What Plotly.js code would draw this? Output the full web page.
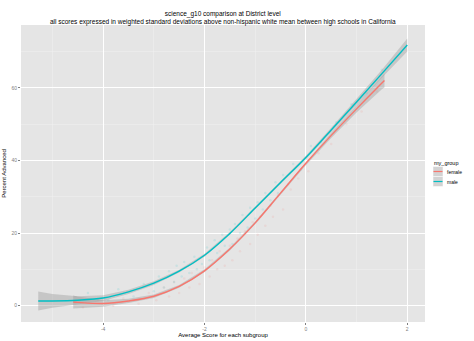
<!DOCTYPE html>
<html><head><meta charset="utf-8">
<script src="https://cdn.plot.ly/plotly-3.0.1.min.js"></script>
<style>html,body{margin:0;padding:0;background:#fff}</style>
</head><body><div id="chart" style="width:474px;height:341px"></div>
<script>
// smoothed curves (loess fit) with confidence band
const maleX = [-5.28, -5.0, -4.5, -4.0, -3.5, -3.0, -2.5, -2.0, -1.5, -1.0, -0.5, 0.0, 0.5, 1.0, 1.5, 2.0];
const maleY = [1.3, 1.3, 1.5, 2.1, 3.8, 6.2, 9.5, 13.9, 19.9, 26.9, 33.9, 40.8, 48.4, 56.1, 63.9, 71.8];
const maleLo = [-1.3, -0.6, 0.4, 1.3, 3.2, 5.7, 9.1, 13.5, 19.5, 26.5, 33.5, 40.3, 47.8, 55.3, 62.8, 70.0];
const maleHi = [3.9, 3.2, 2.6, 2.9, 4.4, 6.7, 9.9, 14.3, 20.3, 27.3, 34.3, 41.3, 49.0, 56.9, 65.0, 73.6];
const femaleX = [-4.59, -4.5, -4.0, -3.5, -3.0, -2.5, -2.0, -1.5, -1.0, -0.5, 0.0, 0.5, 1.0, 1.5, 1.55];
const femaleY = [1.0, 0.9, 0.6, 1.3, 2.6, 5.3, 9.6, 15.6, 22.8, 31.0, 39.2, 46.9, 54.2, 61.3, 62.0];
const femaleLo = [-0.8, -0.7, -0.3, 0.7, 2.1, 4.9, 9.2, 15.2, 22.4, 30.6, 38.7, 46.2, 53.2, 59.6, 60.1];
const femaleHi = [2.8, 2.5, 1.5, 1.9, 3.1, 5.7, 10.0, 16.0, 23.2, 31.4, 39.7, 47.6, 55.2, 63.0, 63.9];
// raw district points (faint)
const malePtX = [-4.3, -3.9, -3.7, -3.4, -3.2, -3.0, -2.9, -2.8, -2.7, -2.6, -2.55, -2.45, -2.4, -2.3, -2.2, -2.15, -2.05, -1.95, -1.9, -1.8, -1.75, -1.65, -1.6, -1.5, -1.45, -1.4, -1.3, -1.25, -1.15, -1.1, -1.0, -0.95, -0.85, -0.8, -0.7, -0.6, -0.55, -0.45, -0.35, -0.25, -0.1, 0.1, 0.3, 0.6, 0.9, 1.2, 1.5];
const malePtY = [3.5, 1.5, 4.5, 2.5, 6.0, 4.0, 8.0, 5.0, 9.5, 6.5, 11.0, 8.0, 12.0, 9.0, 13.5, 10.0, 11.5, 16.0, 12.5, 18.0, 14.5, 19.5, 16.5, 21.0, 17.0, 22.5, 20.0, 25.0, 21.5, 27.0, 24.0, 28.5, 26.5, 31.0, 29.0, 34.0, 31.0, 36.0, 33.5, 39.0, 37.5, 44.0, 45.0, 50.5, 55.5, 58.5, 65.0];
const femalePtX = [-4.4, -4.1, -3.8, -3.6, -3.3, -3.1, -2.95, -2.8, -2.7, -2.6, -2.5, -2.4, -2.3, -2.25, -2.1, -2.0, -1.9, -1.85, -1.75, -1.7, -1.6, -1.5, -1.45, -1.35, -1.3, -1.2, -1.1, -1.05, -0.95, -0.9, -0.8, -0.7, -0.65, -0.55, -0.45, -0.3, -0.15, 0.05, 0.25, 0.5, 0.8, 1.1, 1.4];
const femalePtY = [-0.5, 1.5, 0.0, 2.0, 0.5, 3.5, 1.5, 5.0, 2.5, 6.5, 3.5, 7.5, 5.0, 9.0, 6.0, 10.5, 8.0, 12.5, 10.0, 15.0, 11.0, 16.5, 12.5, 18.5, 15.0, 20.5, 17.0, 23.0, 19.5, 24.5, 22.0, 27.5, 24.5, 30.5, 26.5, 32.0, 35.0, 37.0, 42.0, 44.5, 50.0, 53.5, 59.0];
const groups = ['female', 'male'];
const colors = {female: '#F8766D', male: '#00BFC4'};
const xTicks = [-4, -2, 0, 2];
const yTicks = [0, 20, 40, 60];

// plot panel pixel geometry
const W = 474, H = 341, L = 21, R = 425, T = 25, B = 322;
const px = p => (p - L) / (R - L);
const py = p => (B - p) / (B - T);

function band(x, lo, hi) {
  return {x: x.concat(x.slice().reverse()), y: hi.concat(lo.slice().reverse()),
    type: 'scatter', mode: 'lines', fill: 'toself', fillcolor: 'rgba(153,153,153,0.4)',
    line: {width: 0}, hoverinfo: 'skip', showlegend: false};
}
const traces = [
  {x: femalePtX, y: femalePtY, type: 'scatter', mode: 'markers', marker: {color: colors.female, size: 2.5, opacity: 0.12}, showlegend: false},
  {x: malePtX, y: malePtY, type: 'scatter', mode: 'markers', marker: {color: colors.male, size: 2.5, opacity: 0.12}, showlegend: false},
  band(femaleX, femaleLo, femaleHi),
  band(maleX, maleLo, maleHi),
  {x: femaleX, y: femaleY, type: 'scatter', mode: 'lines', name: groups[0], line: {color: colors.female, width: 1.4, shape: 'spline', smoothing: 1}, showlegend: false},
  {x: maleX, y: maleY, type: 'scatter', mode: 'lines', name: groups[1], line: {color: colors.male, width: 1.4, shape: 'spline', smoothing: 1}, showlegend: false}
];
const axisCommon = {
  showgrid: true, gridcolor: '#ffffff', gridwidth: 1, zeroline: false, showline: false,
  ticks: 'outside', ticklen: 2, tickcolor: '#7f7f7f', tickfont: {family: 'Liberation Sans, Arial', size: 5, color: '#7f7f7f'}
};
// manual legend (ggplot style)
const keyRows = [{name: groups[0], top: 166.5}, {name: groups[1], top: 176.5}];
const shapes = [];
const annotations = [{xref: 'paper', yref: 'paper', x: px(432.5), y: py(163), xanchor: 'left', yanchor: 'middle',
  text: 'my_group', showarrow: false, font: {size: 5.5, color: '#000'}}];
keyRows.forEach(k => {
  shapes.push({type: 'rect', xref: 'paper', yref: 'paper', x0: px(433), x1: px(443), y0: py(k.top), y1: py(k.top + 10),
    fillcolor: '#d3d3d3', line: {color: '#ffffff', width: 0.5}, layer: 'above'});
  shapes.push({type: 'line', xref: 'paper', yref: 'paper', x0: px(433.5), x1: px(442.5), y0: py(k.top + 5), y1: py(k.top + 5),
    line: {color: colors[k.name], width: 1.2}, layer: 'above'});
  annotations.push({xref: 'paper', yref: 'paper', x: px(445), y: py(k.top + 5), xanchor: 'left', yanchor: 'middle',
    text: k.name, showarrow: false, font: {size: 5, color: '#000'}});
});
const layout = {
  width: W, height: H,
  margin: {l: L, r: W - R, t: T, b: H - B, autoexpand: false},
  paper_bgcolor: '#ffffff', plot_bgcolor: '#e5e5e5',
  font: {family: 'Liberation Sans, Arial', color: '#000'},
  title: {text: 'science_g10 comparison at District level<br>all scores expressed in weighted standard deviations above non-hispanic white mean between high schools in California',
    font: {size: 6.5, color: '#000'}, x: 0.47, xanchor: 'center', y: 0.953, yanchor: 'top'},
  xaxis: Object.assign({}, axisCommon, {range: [-5.62, 2.35], tickvals: xTicks, ticktext: xTicks.map(String),
    minor: {dtick: 1, tick0: 1, showgrid: true, gridcolor: '#f2f2f2', gridwidth: 0.5, ticks: ''},
    title: {text: 'Average Score for each subgroup', font: {size: 6}, standoff: 0}}),
  yaxis: Object.assign({}, axisCommon, {range: [-4.5, 77.3], tickvals: yTicks, ticktext: yTicks.map(String),
    minor: {dtick: 10, tick0: 10, showgrid: true, gridcolor: '#f2f2f2', gridwidth: 0.5, ticks: ''},
    title: {text: 'Percent Advanced', font: {size: 6}, standoff: 4}}),
  shapes: shapes, annotations: annotations,
  showlegend: false
};
Plotly.newPlot('chart', traces, layout, {displayModeBar: false, staticPlot: true});
</script></body></html>
